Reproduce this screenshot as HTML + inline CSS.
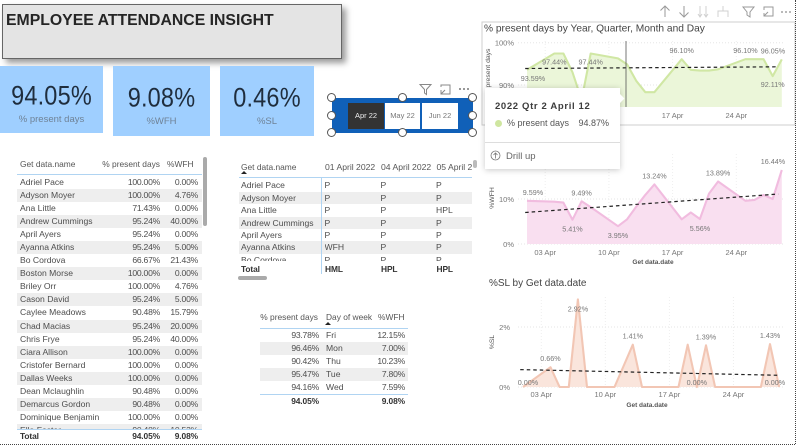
<!DOCTYPE html>
<html lang="en">
<head>
<meta charset="utf-8">
<title>Employee Attendance Insight</title>
<style>
html,body{margin:0;padding:0;background:#fff;}
body{width:800px;height:447px;overflow:hidden;position:relative;font-family:"Liberation Sans",sans-serif;color:#4a4a4a;filter:blur(.35px);}
.abs{position:absolute;}
.card{position:absolute;background:#9fcfff;}
.kv{position:absolute;left:0;right:0;text-align:center;font-size:25px;color:#1f2d3d;letter-spacing:.2px;line-height:28px;transform:scale(.94,1.08);}
.kl{position:absolute;left:0;right:0;text-align:center;font-size:9.5px;color:#6f8296;line-height:12px;}
.clip{position:absolute;overflow:hidden;}
table{border-collapse:collapse;table-layout:fixed;font-size:8.6px;color:#4d4d4d;}
td{padding:0;white-space:nowrap;overflow:hidden;}
.r{text-align:right;letter-spacing:-.25px;}
tr.s td{background:#eeeeee;}
.hd{position:absolute;font-size:8.4px;color:#555;line-height:12px;white-space:nowrap;}
.b{font-weight:bold;color:#333;letter-spacing:-.1px;}
.rule{position:absolute;background:#b0d4f2;}
.btn{position:absolute;top:103px;height:26px;line-height:26px;text-align:center;font-size:7.5px;background:#fff;color:#777;}
.handle{position:absolute;width:7px;height:7px;border-radius:50%;background:#fff;border:1px solid #555;}
.sort{position:absolute;width:0;height:0;border-left:3px solid transparent;border-right:3px solid transparent;border-bottom:3px solid #222;}
</style>
</head>
<body>

<div class="abs" style="left:2px;top:4px;width:338px;height:53px;background:#e4e4e4;border:1px solid #666;box-shadow:4px 4px 6px rgba(0,0,0,.4);">
  <div style="position:absolute;left:3px;top:6px;font-size:15.8px;font-weight:bold;color:#252525;line-height:20px;white-space:nowrap;">EMPLOYEE ATTENDANCE INSIGHT</div>
</div>

<div class="card" style="left:0;top:66px;width:103px;height:67px;">
  <div class="kv" style="top:16px;">94.05%</div>
  <div class="kl" style="top:48px;">% present days</div>
</div>
<div class="card" style="left:113px;top:66px;width:97px;height:70px;">
  <div class="kv" style="top:18px;">9.08%</div>
  <div class="kl" style="top:50px;">%WFH</div>
</div>
<div class="card" style="left:220px;top:66px;width:94px;height:70px;">
  <div class="kv" style="top:18px;">0.46%</div>
  <div class="kl" style="top:50px;">%SL</div>
</div>

<!-- Month slicer -->
<div class="abs" style="left:332px;top:98px;width:141px;height:35px;background:#1060b8;"></div>
<div class="btn" style="left:348px;width:36px;background:#333;color:#eee;">Apr 22</div>
<div class="btn" style="left:385px;width:35px;">May 22</div>
<div class="btn" style="left:422px;width:36px;">Jun 22</div>
<div class="handle" style="left:327px;top:93px;"></div>
<div class="handle" style="left:398px;top:93px;"></div>
<div class="handle" style="left:468px;top:93px;"></div>
<div class="handle" style="left:327px;top:111px;"></div>
<div class="handle" style="left:468px;top:111px;"></div>
<div class="handle" style="left:327px;top:128px;"></div>
<div class="handle" style="left:398px;top:128px;"></div>
<div class="handle" style="left:468px;top:128px;"></div>

<svg class="abs" style="left:415px;top:82px;" width="60" height="14" fill="none" stroke="#888" stroke-width="1">
  <path d="M5 2.5h11l-4.5 5v5l-2-1.5v-3.5z"/>
  <path d="M26 5V3h9v9h-9V8M26 12l4-4M30 3h5v4"/>
  <g fill="#777" stroke="none"><circle cx="45" cy="7" r="1"/><circle cx="49" cy="7" r="1"/><circle cx="53" cy="7" r="1"/></g>
</svg>

<!-- Employee table -->
<div class="hd" style="left:20px;top:158px;">Get data.name</div>
<div class="hd" style="left:100px;width:60px;text-align:right;top:158px;">% present days</div>
<div class="hd" style="left:167px;top:158px;">%WFH</div>
<div class="rule" style="left:17px;top:174px;width:185px;height:1px;"></div>
<div class="clip" style="left:17px;top:175.5px;width:185px;height:253.5px;">
<table style="width:185px;">
<colgroup><col style="width:90px"><col style="width:53px"><col style="width:38px"><col style="width:4px"></colgroup>
<tbody style="line-height:13.1px;">
<tr style="height:13.1px"><td style="padding-left:3px">Adriel Pace</td><td class="r">100.00%</td><td class="r">0.00%</td><td></td></tr>
<tr class="s" style="height:13.1px"><td style="padding-left:3px">Adyson Moyer</td><td class="r">100.00%</td><td class="r">4.76%</td><td></td></tr>
<tr style="height:13.1px"><td style="padding-left:3px">Ana Little</td><td class="r">71.43%</td><td class="r">0.00%</td><td></td></tr>
<tr class="s" style="height:13.1px"><td style="padding-left:3px">Andrew Cummings</td><td class="r">95.24%</td><td class="r">40.00%</td><td></td></tr>
<tr style="height:13.1px"><td style="padding-left:3px">April Ayers</td><td class="r">95.24%</td><td class="r">0.00%</td><td></td></tr>
<tr class="s" style="height:13.1px"><td style="padding-left:3px">Ayanna Atkins</td><td class="r">95.24%</td><td class="r">5.00%</td><td></td></tr>
<tr style="height:13.1px"><td style="padding-left:3px">Bo Cordova</td><td class="r">66.67%</td><td class="r">21.43%</td><td></td></tr>
<tr class="s" style="height:13.1px"><td style="padding-left:3px">Boston Morse</td><td class="r">100.00%</td><td class="r">0.00%</td><td></td></tr>
<tr style="height:13.1px"><td style="padding-left:3px">Briley Orr</td><td class="r">100.00%</td><td class="r">4.76%</td><td></td></tr>
<tr class="s" style="height:13.1px"><td style="padding-left:3px">Cason David</td><td class="r">95.24%</td><td class="r">5.00%</td><td></td></tr>
<tr style="height:13.1px"><td style="padding-left:3px">Caylee Meadows</td><td class="r">90.48%</td><td class="r">15.79%</td><td></td></tr>
<tr class="s" style="height:13.1px"><td style="padding-left:3px">Chad Macias</td><td class="r">95.24%</td><td class="r">20.00%</td><td></td></tr>
<tr style="height:13.1px"><td style="padding-left:3px">Chris Frye</td><td class="r">95.24%</td><td class="r">40.00%</td><td></td></tr>
<tr class="s" style="height:13.1px"><td style="padding-left:3px">Ciara Allison</td><td class="r">100.00%</td><td class="r">0.00%</td><td></td></tr>
<tr style="height:13.1px"><td style="padding-left:3px">Cristofer Bernard</td><td class="r">100.00%</td><td class="r">0.00%</td><td></td></tr>
<tr class="s" style="height:13.1px"><td style="padding-left:3px">Dallas Weeks</td><td class="r">100.00%</td><td class="r">0.00%</td><td></td></tr>
<tr style="height:13.1px"><td style="padding-left:3px">Dean Mclaughlin</td><td class="r">90.48%</td><td class="r">0.00%</td><td></td></tr>
<tr class="s" style="height:13.1px"><td style="padding-left:3px">Demarcus Gordon</td><td class="r">90.48%</td><td class="r">0.00%</td><td></td></tr>
<tr style="height:13.1px"><td style="padding-left:3px">Dominique Benjamin</td><td class="r">100.00%</td><td class="r">0.00%</td><td></td></tr>
<tr class="s" style="height:13.1px"><td style="padding-left:3px">Ella Foster</td><td class="r">90.48%</td><td class="r">10.53%</td><td></td></tr>
</tbody></table>
</div>
<div class="rule" style="left:17px;top:429px;width:185px;height:1px;"></div>
<div class="hd b" style="left:20px;top:429.5px;">Total</div>
<div class="hd b" style="left:100px;width:60px;text-align:right;top:429.5px;">94.05%</div>
<div class="hd b" style="left:160px;width:38px;text-align:right;top:429.5px;">9.08%</div>
<div class="abs" style="left:203px;top:157px;width:4px;height:69px;border-radius:2px;background:#aaa;"></div>

<!-- Attendance matrix -->
<div class="hd" style="left:241px;top:161px;">Get data.name</div>
<div class="sort" style="left:241px;top:171px;"></div>
<div class="clip" style="left:321px;top:161px;width:151px;height:13px;">
  <div class="hd" style="left:4px;top:0;font-size:8.6px;">01 April 2022</div>
  <div class="hd" style="left:60px;top:0;font-size:8.6px;">04 April 2022</div>
  <div class="hd" style="left:115.5px;top:0;font-size:8.6px;">05 April 2022</div>
</div>
<div class="rule" style="left:239px;top:177px;width:233px;height:1px;"></div>
<div class="clip" style="left:239px;top:179.300px;width:233px;height:82px;">
<table style="width:233px;">
<colgroup><col style="width:85.5px"><col style="width:56px"><col style="width:55.5px"><col style="width:36px"></colgroup>
<tbody style="line-height:12.4px;">
<tr style="height:12.4px"><td style="padding-left:2px">Adriel Pace</td><td>P</td><td>P</td><td>P</td></tr>
<tr class="s" style="height:12.4px"><td style="padding-left:2px">Adyson Moyer</td><td>P</td><td>P</td><td>P</td></tr>
<tr style="height:12.4px"><td style="padding-left:2px">Ana Little</td><td>P</td><td>P</td><td>HPL</td></tr>
<tr class="s" style="height:12.4px"><td style="padding-left:2px">Andrew Cummings</td><td>P</td><td>P</td><td>P</td></tr>
<tr style="height:12.4px"><td style="padding-left:2px">April Ayers</td><td>P</td><td>P</td><td>P</td></tr>
<tr class="s" style="height:12.4px"><td style="padding-left:2px">Ayanna Atkins</td><td>WFH</td><td>P</td><td>P</td></tr>
<tr style="height:12.4px"><td style="padding-left:2px">Bo Cordova</td><td>P</td><td>P</td><td>P</td></tr>
</tbody></table>
</div>
<div class="hd b" style="left:241px;top:262.5px;">Total</div>
<div class="hd b" style="left:325px;top:262.5px;">HML</div>
<div class="hd b" style="left:381px;top:262.5px;">HPL</div>
<div class="hd b" style="left:436.5px;top:262.5px;">HPL</div>
<div class="rule" style="left:321px;top:177px;width:1px;height:97px;"></div>
<div class="abs" style="left:238px;top:276px;width:29px;height:3.5px;border-radius:2px;background:#aaa;"></div>
<div class="abs" style="left:473px;top:160px;width:4px;height:8px;border-radius:2px;background:#bbb;"></div>

<!-- Day of week table -->
<div class="hd" style="left:258px;width:60px;text-align:right;top:311px;">% present days</div>
<div class="hd" style="left:326px;top:311px;">Day of week</div>
<div class="sort" style="left:325px;top:322px;"></div>
<div class="hd" style="left:378px;top:311px;">%WFH</div>
<div class="rule" style="left:260px;top:328px;width:148px;height:1px;"></div>
<div class="clip" style="left:260px;top:329px;width:148px;height:65px;">
<table style="width:148px;">
<colgroup><col style="width:59px"><col style="width:7px"><col style="width:40px"><col style="width:39px"><col style="width:3px"></colgroup>
<tbody style="line-height:13.1px;">
<tr style="height:13.1px"><td class="r">93.78%</td><td></td><td>Fri</td><td class="r">12.15%</td><td></td></tr>
<tr class="s" style="height:13.1px"><td class="r">96.46%</td><td></td><td>Mon</td><td class="r">7.00%</td><td></td></tr>
<tr style="height:13.1px"><td class="r">90.42%</td><td></td><td>Thu</td><td class="r">10.23%</td><td></td></tr>
<tr class="s" style="height:13.1px"><td class="r">95.47%</td><td></td><td>Tue</td><td class="r">7.80%</td><td></td></tr>
<tr style="height:13.1px"><td class="r">94.16%</td><td></td><td>Wed</td><td class="r">7.59%</td><td></td></tr>
</tbody></table>
</div>
<div class="rule" style="left:260px;top:394px;width:148px;height:1px;"></div>
<div class="hd b" style="left:259px;width:60px;text-align:right;top:394.5px;">94.05%</div>
<div class="hd b" style="left:345px;width:60px;text-align:right;top:394.5px;">9.08%</div>

<!-- Charts -->
<svg id="charts" class="abs" style="left:0;top:0;" width="800" height="447"></svg>

<!-- Chart toolbar -->
<svg class="abs" style="left:655px;top:3px;" width="140" height="18" fill="none" stroke="#999" stroke-width="1">
  <path d="M10 14V3M5.5 7.5L10 3l4.500 4.500"/>
  <path d="M29 3v11M24.500 9.500L29 14l4.500-4.500"/>
  <path stroke="#d0d0d0" d="M45 3v11M51 3v11M43 11l2 3 2-3M49 11l2 3 2-3"/>
  <path stroke="#d0d0d0" d="M68 3v5M63 14V8h10v6"/>
  <path d="M88 4h11l-4 5v5l-3-2v-3z"/>
  <path d="M109 7V4h9v9h-9v-3M109 13l4-4M113 4h5v4"/>
  <g fill="#888" stroke="none"><circle cx="127" cy="9" r=".9"/><circle cx="131" cy="9" r=".9"/><circle cx="135" cy="9" r=".9"/></g>
</svg>

<!-- Tooltip -->
<div class="abs" style="left:485px;top:88px;width:135px;height:81px;background:#fff;box-shadow:0 1px 6px rgba(0,0,0,.22);">
  <div style="position:absolute;left:131px;top:7px;width:7px;height:7px;background:#fff;transform:rotate(45deg);"></div>
  <div style="position:absolute;left:10px;top:12px;font-size:9.5px;font-weight:bold;letter-spacing:.65px;color:#3c3c3c;line-height:13px;white-space:nowrap;">2022 Qtr 2 April 12</div>
  <div style="position:absolute;left:10px;top:32px;width:7px;height:7px;border-radius:50%;background:#cfe6a0;"></div>
  <div style="position:absolute;left:22px;top:29px;font-size:9px;color:#555;line-height:13px;white-space:nowrap;">% present days</div>
  <div style="position:absolute;right:11px;top:29px;font-size:9px;color:#555;line-height:13px;">94.87%</div>
  <div style="position:absolute;left:0;right:0;top:54px;height:1px;background:#ddd;"></div>
  <svg style="position:absolute;left:5px;top:62px;" width="11" height="11" fill="none" stroke="#777" stroke-width=".8"><circle cx="5.500" cy="5.500" r="4.500"/><path d="M5.500 8.500V3M3.500 5l2-2 2 2"/></svg>
  <div style="position:absolute;left:21px;top:62px;font-size:9.5px;color:#666;line-height:13px;">Drill up</div>
</div>

<div class="abs" style="left:795px;top:0;height:444px;width:0;border-left:1px dotted #444;"></div>
<div class="abs" style="left:0;top:444px;width:795px;height:0;border-top:1px dotted #444;"></div>

<script>
var workDays = [1, 4, 5, 6, 7, 8, 11, 12, 13, 14, 15, 18, 19, 20, 21, 22, 25, 26, 27, 28, 29];
var tickDays = [3, 10, 17, 24];
var tickLabels = ['03 Apr', '10 Apr', '17 Apr', '24 Apr'];

var presentValues = [93.59, 97.44, 97.44, 93.0, 86.5, 97.44, 96.3, 94.87, 91.0, 88.3, 88.3, 96.1, 93.6, 93.4, 93.4, 93.7, 96.1, 96.1, 96.1, 92.11, 96.05];
var presentTrend = [93.9, 94.3];
var presentTicks = [90, 100];
var presentLabelDays = [1, 4, 8, 18, 25, 28, 29];
var presentLabelBelow = [1, 4, 8, 28];

var wfhValues = [9.59, 9.4, 9.2, 5.41, 9.49, 8.2, 3.95, 5.5, 8.3, 10.9, 13.24, 5.5, 7.0, 5.56, 11.2, 13.89, 9.6, 9.8, 10.9, 10.0, 16.44];
var wfhTrend = [7.0, 11.1];
var wfhTicks = [0, 10];
var wfhLabelDays = [1, 6, 7, 11, 15, 20, 22, 29];
var wfhLabelBelow = [6, 11, 20];

var slValues = [0, 0.66, 0, 0, 2.92, 0, 0, 0.7, 1.41, 0, 0, 0, 1.41, 0, 1.39, 0, 0, 0, 0, 1.43, 0];
var slTrend = [0.58, 0.39];
var slTicks = [0, 2];
var slLabelDays = [1, 4, 7, 13, 20, 21, 28, 29];
var slLabelBelow = [7];

var svg = document.getElementById('charts');
var NS = 'http://www.w3.org/2000/svg';

function make(parent, tag, attrs, txt) {
  var el = document.createElementNS(NS, tag);
  for (var k in attrs) el.setAttribute(k, attrs[k]);
  if (txt !== undefined) el.textContent = txt;
  parent.appendChild(el);
  return el;
}

function drawChart(c) {
  var g = make(svg, 'g', {});
  
  

  function x(d) { return c.x1 + (d - 1) * c.dayW; }
  function y(v) { return c.y0 - (v - c.v0) * c.pxPerUnit; }

  // gridlines
  c.yTicks.forEach(function (t, i) {
    var gl = make(g, 'line', { x1: c.gridL, x2: c.gridR, y1: y(t), y2: y(t), stroke: '#e6e6e6', 'stroke-dasharray': '1 2' });
    
    
    var tl = make(g, 'text', { x: c.tickR, y: y(t) + 3, 'text-anchor': 'end', 'font-size': 7.5, fill: '#777' }, t + '%');
    
    
  });
  tickDays.forEach(function (d, i) {
    var gv = make(g, 'line', { x1: x(d), x2: x(d), y1: c.gridT, y2: c.baseY, stroke: '#eeeeee', 'stroke-dasharray': '1 2' });
    
    
    var xl = make(g, 'text', { x: x(d), y: c.xTickY, 'text-anchor': 'middle', 'font-size': 7.5, fill: '#777' }, tickLabels[i]);
    
    
  });

  // area and line
  var pts = workDays.map(function (d, i) { return x(d).toFixed(1) + ',' + y(c.values[i]).toFixed(1); });
  var areaPts = x(workDays[0]).toFixed(1) + ',' + c.baseY + ' ' + pts.join(' ') + ' ' + x(workDays[workDays.length - 1]).toFixed(1) + ',' + c.baseY;
  var area = make(g, 'polygon', { points: areaPts, fill: c.area });
  
  
  var line = make(g, 'polyline', { points: pts.join(' '), fill: 'none', stroke: c.line, 'stroke-width': 2.1, 'stroke-linejoin': 'round' });
  
  

  // trend line
  var trend = make(g, 'line', { x1: x(c.trendDays[0]), x2: x(c.trendDays[1]), y1: y(c.trend[0]), y2: y(c.trend[1]), stroke: '#222', 'stroke-width': 1.2, 'stroke-dasharray': '3.5 3' });
  
  

  // data labels
  c.labelDays.forEach(function (d) {
    var v = c.values[workDays.indexOf(d)];
    var below = c.labelBelow.indexOf(d) >= 0;
    var lx = Math.max(c.labelMin, Math.min(c.labelMax, x(d)));
    var ly = below ? y(v) + c.belowGap : y(v) - 6;
    if (v === 0 && !below) ly = y(v) - 2;
    var lab = make(g, 'text', { x: lx, y: ly, 'text-anchor': 'middle', 'font-size': 7.2, fill: '#777' }, v.toFixed(2) + '%');
    
    
  });

  // axis titles
  var yt = make(g, 'text', { transform: 'translate(' + c.yTitleX + ',' + c.yTitleY + ') rotate(-90)', 'text-anchor': 'middle', 'font-size': 6.8, fill: '#555' }, c.yTitle);
  
  
  if (c.xTitleY) {
    var xt = make(g, 'text', { x: c.xTitleX, y: c.xTitleY, 'text-anchor': 'middle', 'font-size': 6.5, fill: '#555', 'font-weight': 'bold' }, 'Get data.date');
    
    
  }
}

// Frame of the first chart
var frame = make(svg, 'rect', { x: 482, y: 22, width: 313, height: 103, fill: '#fff', stroke: '#cfcfcf' });



drawChart({
  name: 'present-days', x1: 527, dayW: 9.1, y0: 85, v0: 90, pxPerUnit: 4.23, baseY: 107,
  values: presentValues, trend: presentTrend, trendDays: [0.8, 28.6], yTicks: presentTicks,
  labelDays: presentLabelDays, labelBelow: presentLabelBelow, belowGap: 11,
  gridL: 518, gridR: 783, gridT: 41, tickR: 514, xTickY: 118, labelMin: 533, labelMax: 773,
  area: '#ebf6d9', line: '#d0e7a4', yTitle: '% present days', yTitleX: 490, yTitleY: 72
});
drawChart({
  name: 'wfh', x1: 527, dayW: 9.1, y0: 244, v0: 0, pxPerUnit: 4.5, baseY: 244,
  values: wfhValues, trend: wfhTrend, trendDays: [0.8, 28.6], yTicks: wfhTicks,
  labelDays: wfhLabelDays, labelBelow: wfhLabelBelow, belowGap: 12,
  gridL: 518, gridR: 783, gridT: 154, tickR: 514, xTickY: 255, labelMin: 533, labelMax: 773,
  area: '#f9dff0', line: '#f1bcdf', yTitle: '%WFH', yTitleX: 494, yTitleY: 198,
  xTitleX: 653, xTitleY: 264
});
drawChart({
  name: 'sl', x1: 523, dayW: 9.15, y0: 387, v0: 0, pxPerUnit: 30, baseY: 387,
  values: slValues, trend: slTrend, trendDays: [0.7, 29], yTicks: slTicks,
  labelDays: slLabelDays, labelBelow: slLabelBelow, belowGap: 12,
  gridL: 518, gridR: 783, gridT: 297, tickR: 510, xTickY: 397, labelMin: 528, labelMax: 775,
  area: '#fae5dc', line: '#f2c6b4', yTitle: '%SL', yTitleX: 494, yTitleY: 342,
  xTitleX: 647, xTitleY: 407
});

var cursor = make(svg, 'line', { x1: 626, x2: 626, y1: 41, y2: 107, stroke: '#555', 'stroke-width': 0.8 });



var t1 = make(svg, 'text', { x: 484, y: 31.5, 'font-size': 10.2, fill: '#444' }, '% present days by Year, Quarter, Month and Day');


var t3 = make(svg, 'text', { x: 489, y: 286, 'font-size': 10, fill: '#444' }, '%SL by Get data.date');


</script>
</body>
</html>
